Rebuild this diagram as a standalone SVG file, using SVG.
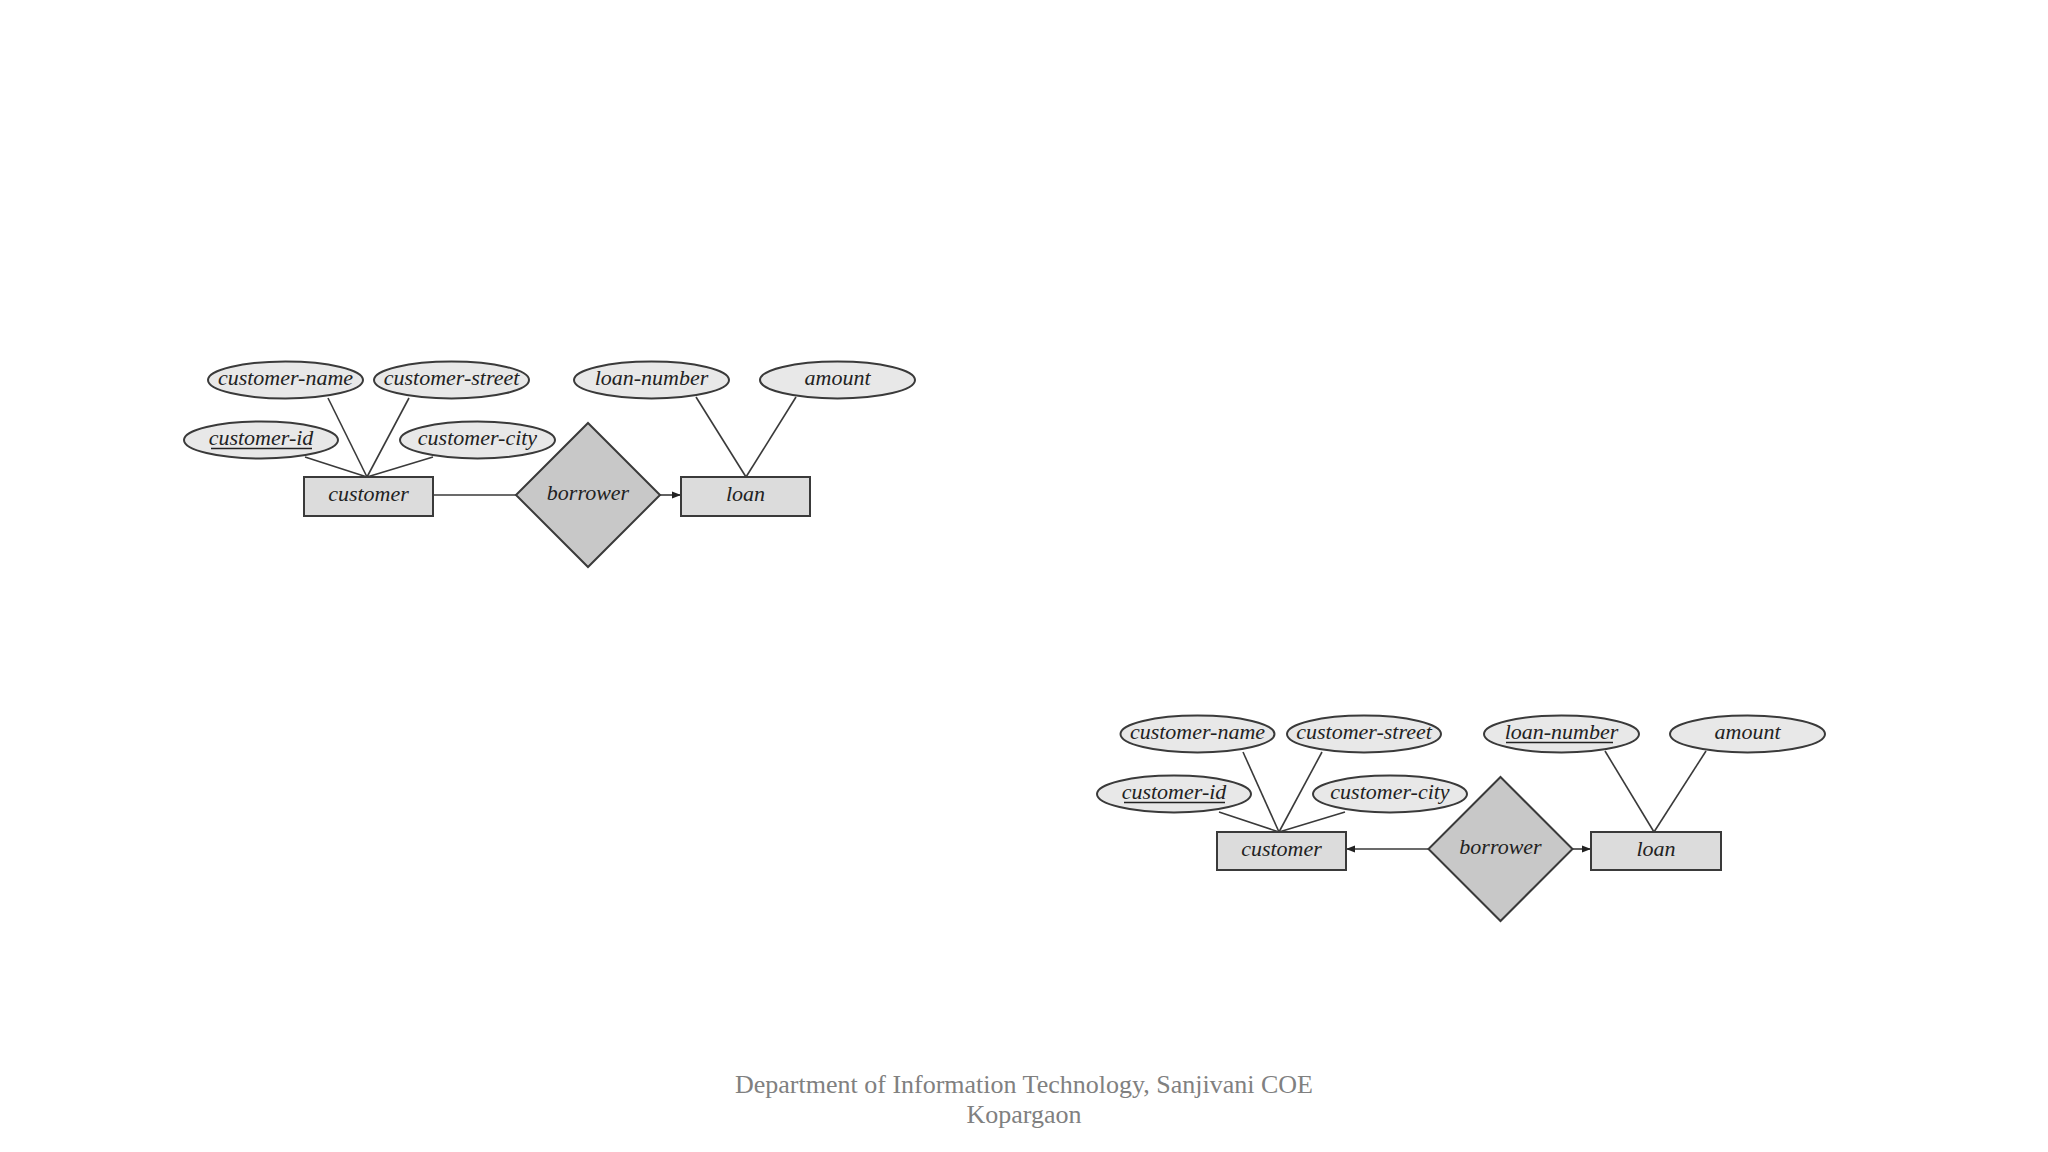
<svg xmlns="http://www.w3.org/2000/svg" width="2048" height="1152" viewBox="0 0 2048 1152">
<style>
.attr{fill:#e8e8e8;stroke:#3a3a3a;stroke-width:2}
.ent{fill:#dcdcdc;stroke:#3a3a3a;stroke-width:2}
.rel{fill:#c8c8c8;stroke:#3a3a3a;stroke-width:2}
.lbl{font-family:"Liberation Serif",serif;font-style:italic;font-size:22px;fill:#222;text-anchor:middle}
.ul{stroke:#222;stroke-width:1.5}
.ln{stroke:#3a3a3a;stroke-width:1.6;fill:none}
.foot{font-family:"Liberation Serif",serif;font-size:26px;fill:#808080;text-anchor:middle}
</style>
<defs>
<marker id="arr" viewBox="0 0 10 10" refX="10" refY="5" markerWidth="9" markerHeight="9" markerUnits="userSpaceOnUse" orient="auto">
<path d="M0,1 L10,5 L0,9 Z" fill="#222"/>
</marker>
</defs>
<rect width="2048" height="1152" fill="#fff"/>

<g id="connectors">
<line class="ln" x1="328" y1="398" x2="367" y2="477"/>
<line class="ln" x1="409" y1="398" x2="367" y2="477"/>
<line class="ln" x1="305" y1="457" x2="367" y2="477"/>
<line class="ln" x1="433" y1="457" x2="367" y2="477"/>
<line class="ln" x1="433" y1="495" x2="516" y2="495"/>
<line class="ln" x1="660" y1="495" x2="681" y2="495" marker-end="url(#arr)"/>
<line class="ln" x1="696" y1="397" x2="746" y2="477"/>
<line class="ln" x1="796" y1="397" x2="746" y2="477"/>

<line class="ln" x1="1243" y1="752" x2="1279" y2="832"/>
<line class="ln" x1="1322" y1="752" x2="1279" y2="832"/>
<line class="ln" x1="1219" y1="812" x2="1279" y2="832"/>
<line class="ln" x1="1345" y1="812" x2="1279" y2="832"/>
<line class="ln" x1="1429" y1="849" x2="1346" y2="849" marker-end="url(#arr)"/>
<line class="ln" x1="1573" y1="849" x2="1591" y2="849" marker-end="url(#arr)"/>
<line class="ln" x1="1605" y1="751" x2="1654" y2="832"/>
<line class="ln" x1="1706" y1="751" x2="1654" y2="832"/>
</g>

<g id="top-customer-name"><ellipse class="attr" cx="285.5" cy="380" rx="77.5" ry="18.5"/><text class="lbl" x="285.5" y="385">customer-name</text></g>
<g id="top-customer-street"><ellipse class="attr" cx="451.5" cy="380" rx="77.5" ry="18.5"/><text class="lbl" x="451.5" y="385">customer-street</text></g>
<g id="top-customer-id"><ellipse class="attr" cx="261" cy="440" rx="77" ry="18.5"/><text class="lbl" x="261" y="445">customer-id</text><line class="ul" x1="211" y1="448.5" x2="312" y2="448.5"/></g>
<g id="top-customer-city"><ellipse class="attr" cx="477.5" cy="440" rx="77.5" ry="18.5"/><text class="lbl" x="477.5" y="445">customer-city</text></g>
<g id="top-loan-number"><ellipse class="attr" cx="651.5" cy="380" rx="77.5" ry="18.5"/><text class="lbl" x="651.5" y="385">loan-number</text></g>
<g id="top-amount"><ellipse class="attr" cx="837.5" cy="380" rx="77.5" ry="18.5"/><text class="lbl" x="837.5" y="385">amount</text></g>
<g id="top-customer"><rect class="ent" x="304" y="477" width="129" height="39"/><text class="lbl" x="368.5" y="501">customer</text></g>
<g id="top-borrower"><polygon class="rel" points="588,423 660,495 588,567 516,495"/><text class="lbl" x="588" y="500">borrower</text></g>
<g id="top-loan"><rect class="ent" x="681" y="477" width="129" height="39"/><text class="lbl" x="745.5" y="501">loan</text></g>

<g id="bot-customer-name"><ellipse class="attr" cx="1197.5" cy="734" rx="77" ry="18.5"/><text class="lbl" x="1197.5" y="739">customer-name</text></g>
<g id="bot-customer-street"><ellipse class="attr" cx="1364" cy="734" rx="77" ry="18.5"/><text class="lbl" x="1364" y="739">customer-street</text></g>
<g id="bot-customer-id"><ellipse class="attr" cx="1174" cy="794" rx="77" ry="18.5"/><text class="lbl" x="1174" y="799">customer-id</text><line class="ul" x1="1124" y1="802.5" x2="1225" y2="802.5"/></g>
<g id="bot-customer-city"><ellipse class="attr" cx="1390" cy="794" rx="77" ry="18.5"/><text class="lbl" x="1390" y="799">customer-city</text></g>
<g id="bot-loan-number"><ellipse class="attr" cx="1561.5" cy="734" rx="77.5" ry="18.5"/><text class="lbl" x="1561.5" y="739">loan-number</text><line class="ul" x1="1506" y1="742.5" x2="1613" y2="742.5"/></g>
<g id="bot-amount"><ellipse class="attr" cx="1747.5" cy="734" rx="77.5" ry="18.5"/><text class="lbl" x="1747.5" y="739">amount</text></g>
<g id="bot-customer"><rect class="ent" x="1217" y="832" width="129" height="38"/><text class="lbl" x="1281.5" y="856">customer</text></g>
<g id="bot-borrower"><polygon class="rel" points="1500.5,777 1572.5,849 1500.5,921 1428.5,849"/><text class="lbl" x="1500.5" y="854">borrower</text></g>
<g id="bot-loan"><rect class="ent" x="1591" y="832" width="130" height="38"/><text class="lbl" x="1656" y="856">loan</text></g>

<g id="footer">
<text class="foot" x="1024" y="1093">Department of Information Technology, Sanjivani COE</text>
<text class="foot" x="1024" y="1123">Kopargaon</text>
</g>
</svg>
